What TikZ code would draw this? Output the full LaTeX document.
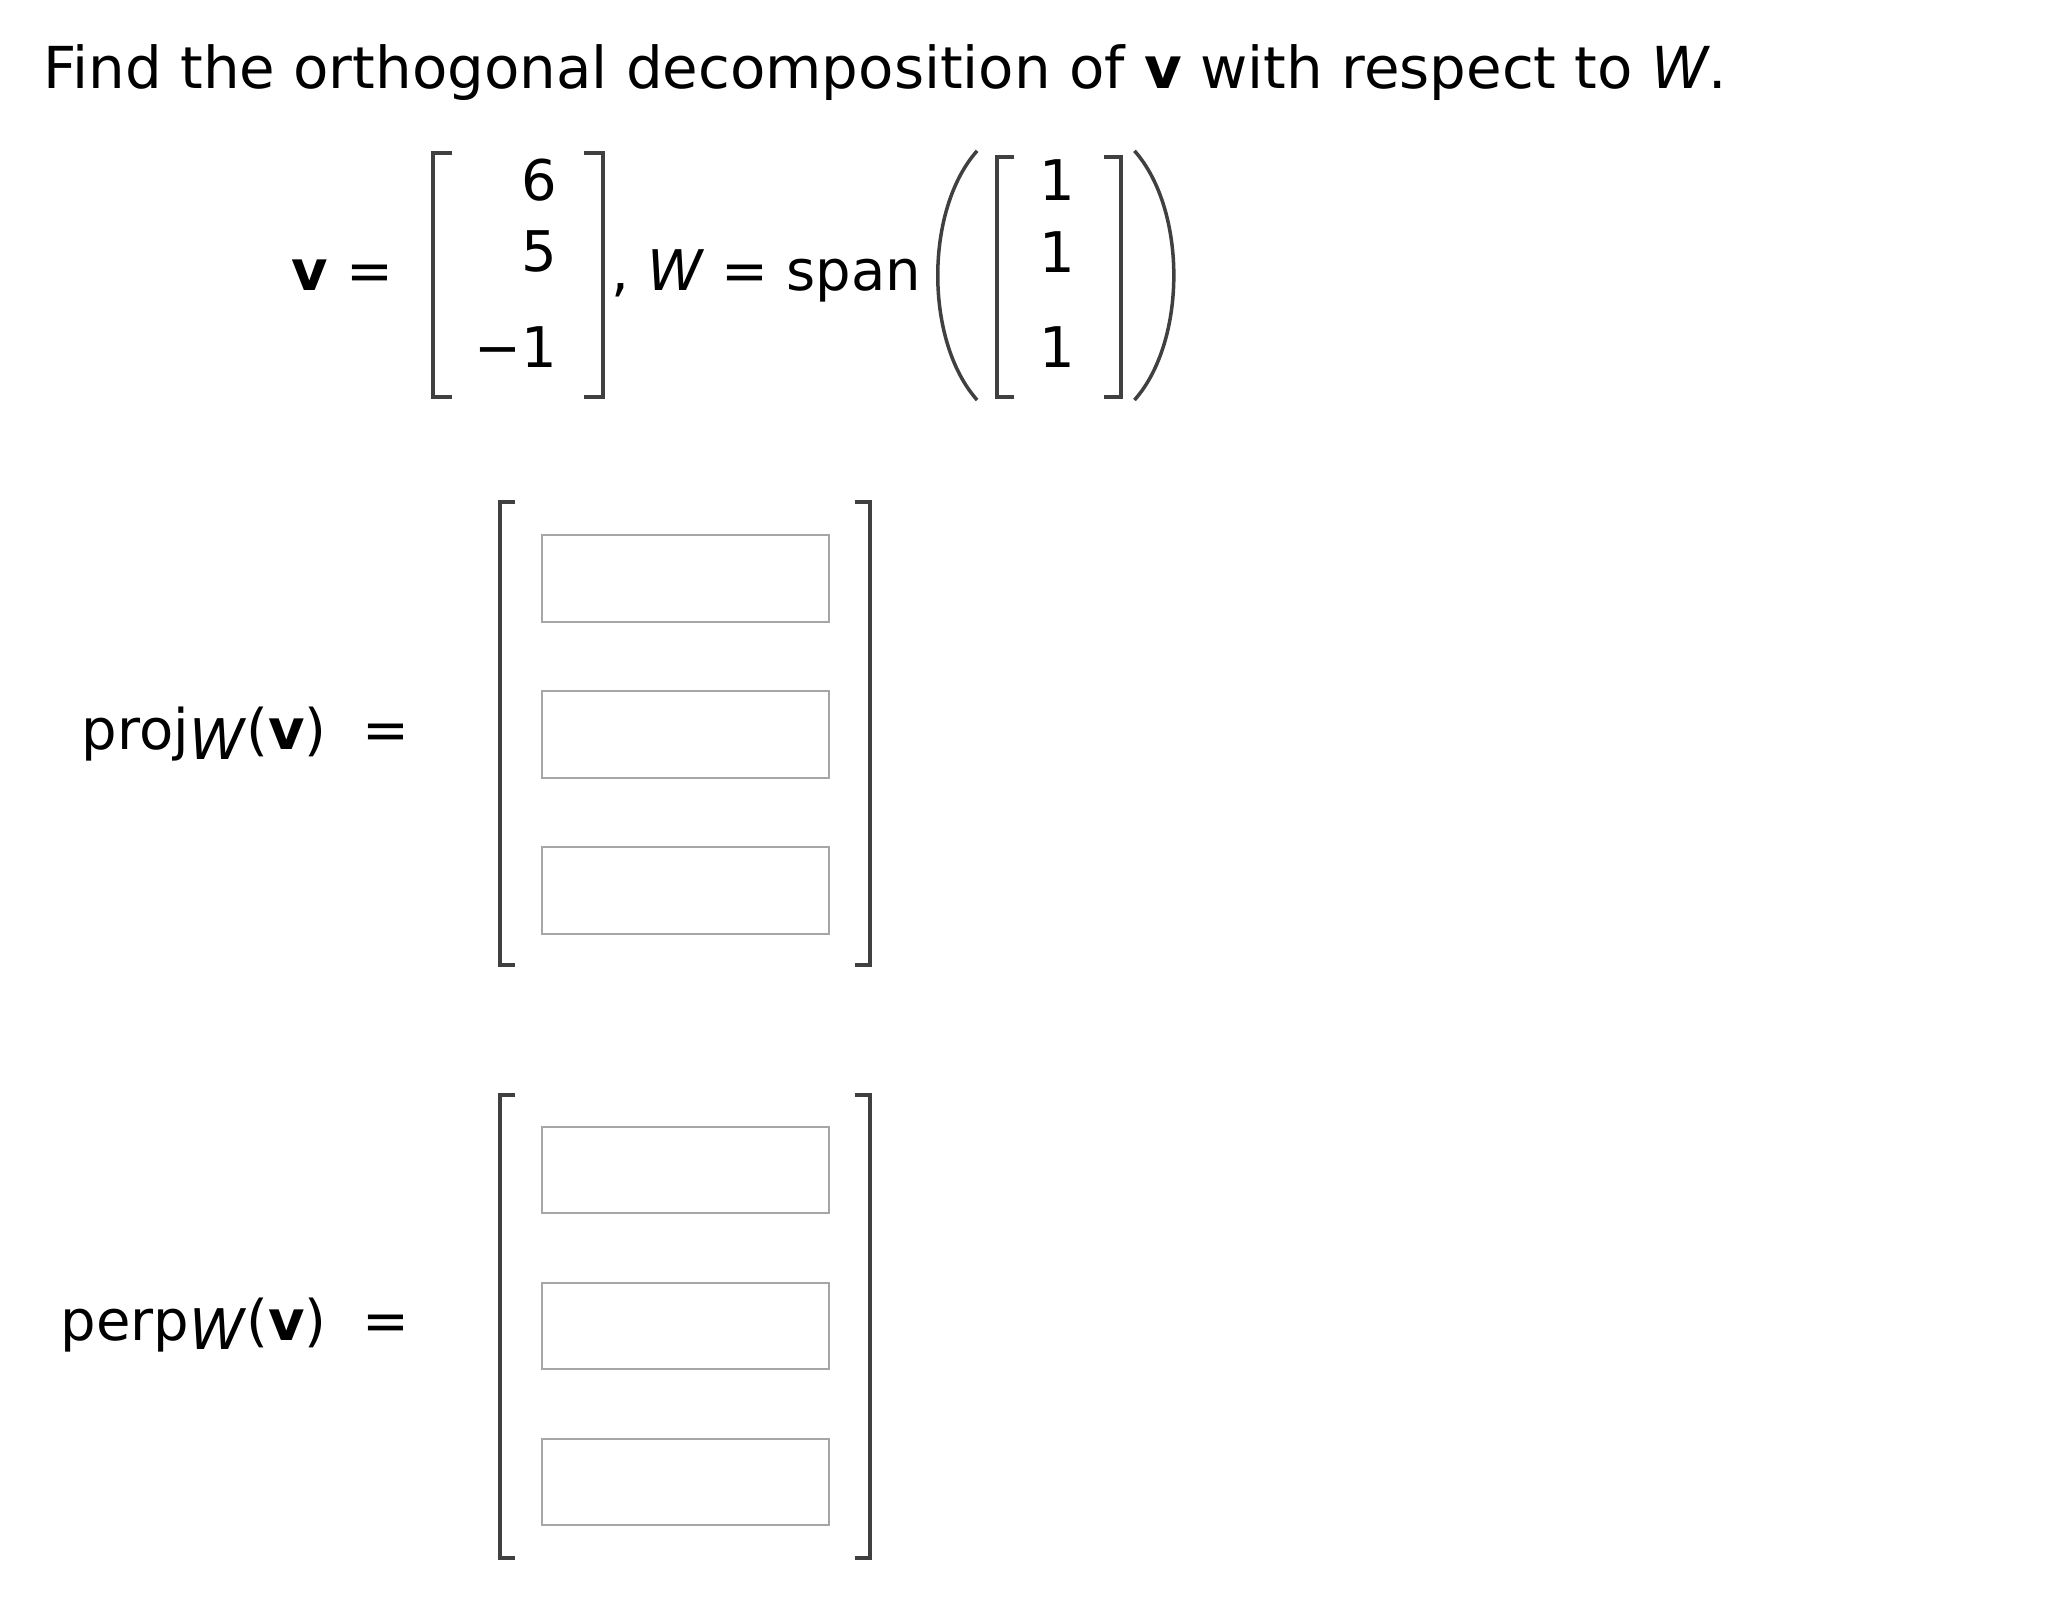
\documentclass[tikz,border=0pt]{standalone}
\usepackage{fontspec}
\setmainfont{DejaVu Sans}
\begin{document}
\begin{tikzpicture}[x=1.311pt,y=-1.311pt,
  txt/.style={inner sep=0pt,font=\fontsize{56}{62}\selectfont},
  brk/.style={line width=4pt,black!75},
  ans/.style={draw=black!35,line width=1.8pt}]
\useasboundingbox[fill=white] (0,0) rectangle (1560,1236);
\node[txt,anchor=west,font=\fontsize{57.8}{62}\selectfont] (title) at (33,55) {Find the orthogonal decomposition of \textbf{v} with respect to \textit{W}.};
% v
\node[txt,anchor=east] (veq) at (300,210) {\textbf{v} =};
\draw[brk] (345,117)--(330,117)--(330,303)--(345,303);
\draw[brk] (445,117)--(460,117)--(460,303)--(445,303);
\node[txt,anchor=east] (v1) at (425,137) {6};
\node[txt,anchor=east] (v2) at (425,192) {5};
\node[txt,anchor=east] (v3) at (425,265) {−1};
\node[txt,anchor=west] (span) at (466,210) {, \textit{W} = span};
\draw[line width=3.5pt,black!75] (745,115) .. controls (705,160) and (705,260) .. (745,305);
\draw[line width=3.5pt,black!75] (865,115) .. controls (905,160) and (905,260) .. (865,305);
\draw[brk] (773,120)--(760,120)--(760,303)--(773,303);
\draw[brk] (842,120)--(855,120)--(855,303)--(842,303);
\node[txt] (w1) at (806,137) {1};
\node[txt] (w2) at (806,192) {1};
\node[txt] (w3) at (806,265) {1};
% proj
\node[txt,anchor=east] (proj) at (312,560) {proj\raisebox{-0.3ex}{\textit{W}}(\textbf{v})\ \ =};
\draw[brk] (393,383)--(381,383)--(381,736)--(393,736);
\draw[brk] (652,383)--(663,383)--(663,736)--(652,736);
\draw[ans] (413,408) rectangle (632,474);
\draw[ans] (413,527) rectangle (632,593);
\draw[ans] (413,646) rectangle (632,712);
% perp
\node[txt,anchor=east] (perp) at (312,1010) {perp\raisebox{-0.3ex}{\textit{W}}(\textbf{v})\ \ =};
\draw[brk] (393,835)--(381,835)--(381,1188)--(393,1188);
\draw[brk] (652,835)--(663,835)--(663,1188)--(652,1188);
\draw[ans] (413,859) rectangle (632,925);
\draw[ans] (413,978) rectangle (632,1044);
\draw[ans] (413,1097) rectangle (632,1163);
\end{tikzpicture}
\end{document}
